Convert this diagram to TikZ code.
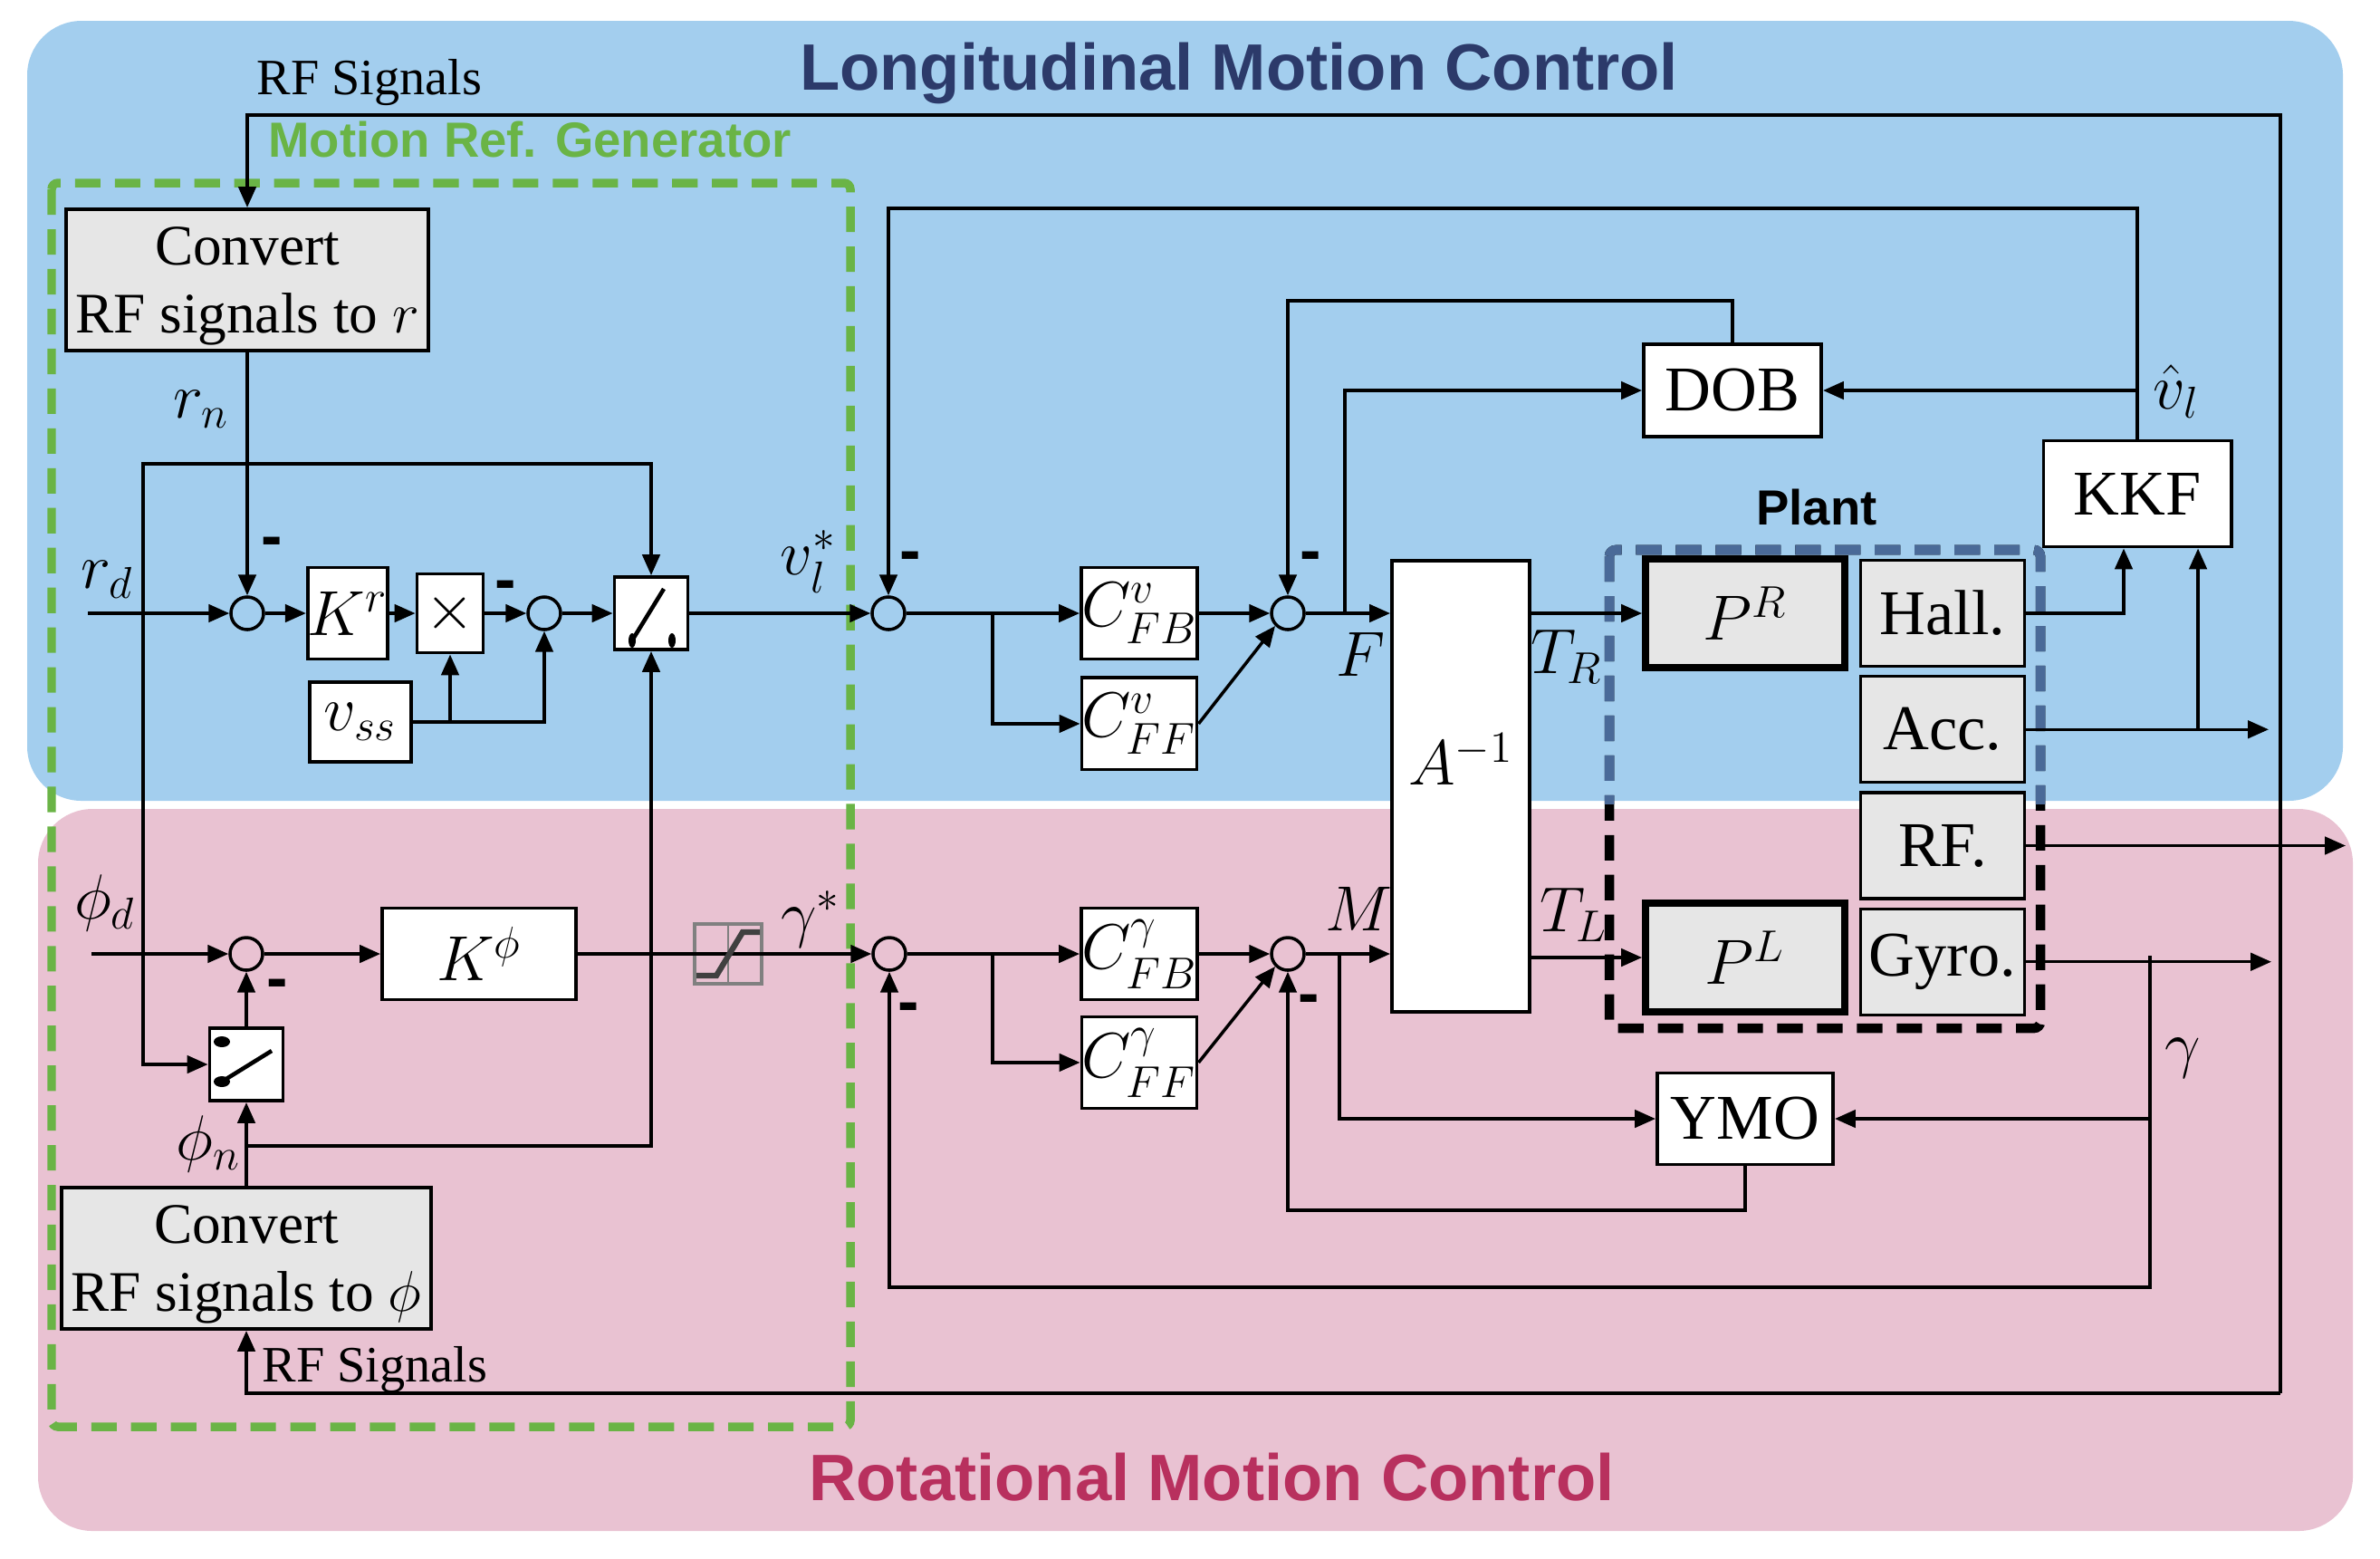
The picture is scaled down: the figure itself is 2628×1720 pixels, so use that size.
\RequirePackage{fix-cm}
\documentclass[tikz,border=0pt]{standalone}
\usepackage{amsmath}
\usepackage{fontspec}
\setmainfont{Liberation Serif}
\setsansfont{Liberation Sans}
\usetikzlibrary{arrows.meta, positioning}

\definecolor{longblue}{RGB}{163,206,238}
\definecolor{rotpink}{RGB}{233,194,210}
\definecolor{navytitle}{RGB}{44,58,106}
\definecolor{rottitle}{RGB}{184,48,94}
\definecolor{refgreen}{RGB}{106,180,70}
\definecolor{plantblue}{RGB}{74,106,152}
\definecolor{sensgray}{RGB}{230,230,230}

\newcommand{\blkfont}{\fontsize{20}{22}\selectfont}
\newcommand{\cvtfont}{\fontsize{18}{21.5}\selectfont}
\newcommand{\lblfont}{\fontsize{20}{22}\selectfont}
\newcommand{\sigfont}{\fontsize{16}{19}\selectfont}
\newcommand{\negfont}{\fontsize{20}{22}\selectfont\sffamily\bfseries}
\newcommand{\ttlfont}{\fontsize{20.6}{24}\selectfont\sffamily\bfseries}
\newcommand{\grpfont}{\fontsize{15.5}{18}\selectfont\sffamily\bfseries}

\begin{document}
\begin{tikzpicture}[
    x=0.01cm, y=-0.01cm,
    >={Triangle[length=6.5pt,width=5.5pt]},
    line width=1pt,
    blk/.style={
        draw,
        fill=white,
        line width=1.1pt,
        inner sep=0pt,
        font=\blkfont
    },
    cvt/.style={blk, fill=sensgray, align=center, font=\cvtfont, text depth=0pt},
    ctrl/.style={blk, minimum width=1.27cm, minimum height=1.01cm},
    sens/.style={blk, fill=sensgray, line width=0.9pt,
        minimum width=1.81cm, minimum height=1.17cm},
    plnt/.style={blk, fill=sensgray, line width=2.2pt,
        minimum width=2.2cm, minimum height=1.2cm},
    swbox/.style={blk, minimum width=0.81cm, minimum height=0.8cm},
    sumpt/.style={circle, draw, line width=1pt, minimum size=0.36cm, inner sep=0pt},
    sig/.style={font=\lblfont, inner sep=1pt},
    sigtxt/.style={font=\sigfont, inner sep=0pt},
    neg/.style={font=\negfont, inner sep=0pt},
    ttl/.style={font=\ttlfont, inner sep=0pt},
    grplbl/.style={font=\grpfont, inner sep=0pt},
    area/.style={rounded corners=0.6cm},
    grpbox/.style={line width=2.7pt, dash pattern=on 8pt off 4.5pt, rounded corners=2pt}
]
\useasboundingbox (0,0) rectangle (2628,1720);

% background areas
\fill[longblue, area] (30,23) rectangle (2587,884);
\fill[rotpink, area] (42,893) rectangle (2598,1690);

\node[ttl, text=navytitle, anchor=base] (ttllong) at (1368,99) {Longitudinal Motion Control};
\node[ttl, text=rottitle, anchor=base] (ttlrot) at (1338,1656) {Rotational Motion Control};

% groups
\draw[refgreen, grpbox] (57,202) rectangle (939,1575);
\node[grplbl, text=refgreen, anchor=base] (mrglbl) at (585,173) {Motion Ref. Generator};
\draw[grpbox, line width=3pt] (1777,607) rectangle (2253,1135);
\begin{scope}
    \clip (0,0) rectangle (2628,887);
    \draw[plantblue, grpbox, line width=3pt] (1777,607) rectangle (2253,1135);
\end{scope}
\node[grplbl, anchor=base] (plantlbl) at (2006,579) {Plant};

% motion reference generator
\node[cvt, minimum width=3.99cm, minimum height=1.56cm] (cvtr) at (273,309) {Convert\\RF signals to $r$};
\node[cvt, minimum width=4.08cm, minimum height=1.56cm] (cvtp) at (272,1389) {Convert\\RF signals to $\phi$};
\node[sumpt] (sumr) at (273,677) {};
\node[blk, minimum width=0.85cm, minimum height=1.01cm] (kr) at (384,677) {$K^r$};
\node[blk, minimum width=0.73cm, minimum height=0.87cm] (mul) at (497,677) {$\times$};
\node[sumpt] (sumv) at (601,677) {};
\node[swbox] (swv) at (719,677) {};
\node[blk, minimum width=1.12cm, minimum height=0.88cm] (vss) at (398,797) {$v_{ss}$};
\node[sumpt] (sumphi) at (272,1053) {};
\node[swbox] (swphi) at (272,1175) {};
\node[blk, minimum width=2.14cm, minimum height=1.01cm] (kphi) at (529,1053) {$K^{\phi}$};
\node[draw=gray, line width=1pt, minimum width=0.74cm, minimum height=0.66cm, inner sep=0pt] (sat) at (804,1053) {};

% longitudinal loop
\node[sumpt] (sumvl) at (981,677) {};
\node[ctrl] (cvfb) at (1258,677) {$C^{v}_{FB}$};
\node[ctrl, below=0.17cm of cvfb] (cvff) {$C^{v}_{FF}$};
\node[sumpt] (sumf) at (1422,677) {};
\node[blk, minimum width=1.52cm, minimum height=4.98cm] (ainv) at (1613,868) {};
\node[font=\blkfont] (ainvlbl) at ([yshift=0.3cm]ainv.center) {$A^{-1}$};
\node[blk, minimum width=1.96cm, minimum height=1.02cm] (dob) at (1913,431) {DOB};
\node[blk, minimum width=2.07cm, minimum height=1.17cm] (kkf) at (2360,545) {KKF};
\node[plnt] (pr) at (1927,677) {$P^R$};
\node[plnt] (pl) at (1927,1057) {$P^L$};
\node[sens] (hall) at (2145,677) {Hall.};
\node[sens, below=0.08cm of hall] (acc) {Acc.};
\node[sens, below=0.08cm of acc] (rfs) {RF.};
\node[sens, below=0.08cm of rfs] (gyro) {Gyro.};

% rotational loop
\node[sumpt] (sumg) at (982,1053) {};
\node[ctrl] (cgfb) at (1258,1053) {$C^{\gamma}_{FB}$};
\node[ctrl, below=0.15cm of cgfb] (cgff) {$C^{\gamma}_{FF}$};
\node[sumpt] (summ) at (1422,1053) {};
\node[blk, minimum width=1.94cm, minimum height=1.01cm] (ymo) at (1927,1235) {YMO};

% switch and saturation symbols
\begin{scope}[shift={(swv.center)}]
    \fill (-21,30) ellipse (4 and 8);
    \fill (23,30) ellipse (4 and 8);
    \draw[line width=1.3pt] (-21,30) -- (14,-27);
\end{scope}
\begin{scope}[shift={(swphi.center)}]
    \fill (-27,-25) ellipse (9 and 6);
    \fill (-27,19) ellipse (9 and 6);
    \draw[line width=1.3pt] (-27,19) -- (28,-15);
\end{scope}

% free ends and branch points
\coordinate (rdin) at (97,677);
\coordinate (phdin) at (101,1053);
\coordinate (modesig) at (158,512);
\coordinate (phnbr) at (272,1265);
\coordinate (rftop) at (2518,127);
\coordinate (rfbot) at (2518,1538);
\coordinate (vlbr) at (1096,677);
\coordinate (fbr) at (1485,677);
\coordinate (dobtop) at (1913,332);
\coordinate (vhtop) at (2360,230);
\coordinate (vhbr) at (2360,431);
\coordinate (kkfina) at ([xshift=-0.15cm]kkf.south);
\coordinate (kkfinb) at ([xshift=0.67cm]kkf.south);
\coordinate (accout) at (2505,804);
\coordinate (rfout) at (2590,930);
\coordinate (gyout) at (2508,1055);
\coordinate (gybr) at (2374,1055);
\coordinate (gyfb) at (2374,1421);
\coordinate (gbr) at (1096,1053);
\coordinate (mbr) at (1479,1053);
\coordinate (ymofb) at (1927,1336);

% reference generator connections
\draw[->] (rdin) -- (sumr.west);
\draw[->] (cvtr.south) -- (sumr.north);
\draw[->] (sumr.east) -- (kr.west);
\draw[->] (kr.east) -- (mul.west);
\draw[->] (mul.east) -- (sumv.west);
\draw[->] (sumv.east) -- (swv.west);
\draw[->] (swv.east) -- (sumvl.west);
\draw[->] (vss.east) -| (sumv.south);
\draw[->] (vss.east -| mul.south) -- (mul.south);
\draw[<->] (swphi.west) -| (modesig) -| (swv.north);
\draw[->] (cvtp.north) -- (swphi.south);
\draw[->] (phnbr) -| (swv.south);
\draw[->] (swphi.north) -- (sumphi.south);
\draw[->] (phdin) -- (sumphi.west);
\draw[->] (sumphi.east) -- (kphi.west);
\draw[->] (kphi.east) -- (sumg.west);
\draw[->] (rfbot) -- (rftop) -| (cvtr.north);
\draw[->] (rfbot) -| (cvtp.south);

\begin{scope}[shift={(sat.center)}]
    \draw[gray, line width=0.6pt] (0,-32) -- (0,32);
    \draw[darkgray, line width=1.8pt] (-35,24) -- (-13,24) -- (16,-24) -- (35,-24);
\end{scope}

% longitudinal connections
\draw[->] (sumvl.east) -- (cvfb.west);
\draw[->] (vlbr) |- (cvff.west);
\draw[->] (cvfb.east) -- (sumf.west);
\draw[->] (cvff.east) -- (sumf.south west);
\draw[->] (sumf.east) -- (sumf.east -| ainv.west);
\draw[->] (fbr) |- (dob.west);
\draw[->] (dob.north) -- (dobtop) -| (sumf.north);
\draw[->] (ainv.east |- pr.west) -- (pr.west);
\draw[->] (hall.east) -| (kkfina);
\draw[->] (acc.east) -- (acc.east -| accout);
\draw[->] (kkfinb |- acc.east) -- (kkfinb);
\draw[->] (kkf.north) -- (vhtop) -| (sumvl.north);
\draw[->] (vhbr) -- (dob.east);
\draw[->] (rfs.east) -- (rfs.east -| rfout);

% rotational connections
\draw[->] (sumg.east) -- (cgfb.west);
\draw[->] (gbr) |- (cgff.west);
\draw[->] (cgfb.east) -- (summ.west);
\draw[->] (cgff.east) -- (summ.south west);
\draw[->] (summ.east) -- (summ.east -| ainv.west);
\draw[->] (mbr) |- (ymo.west);
\draw[->] (ymo.south) -- (ymofb) -| (summ.south);
\draw[->] (ainv.east |- pl.west) -- (pl.west);
\draw[->] (gyro.east) -- (gyro.east -| gyout);
\draw[->] (gybr) |- (ymo.east);
\draw[->] (gybr) -- (gyfb) -| (sumg.south);

% signal labels
\node[sigtxt, anchor=base] (rfsigtop) at (408,104) {RF Signals};
\node[sigtxt, anchor=base] (rfsigbot) at (414,1525) {RF Signals};
\node[sig] (rnlbl) at (222,452) {$r_n$};
\node[sig] (rdlbl) at (118,640) {$r_d$};
\node[sig] (vllbl) at (893,620) {$v_l^{*}$};
\node[sig] (phdlbl) at (116,997) {$\phi_d$};
\node[sig] (phnlbl) at (230,1263) {$\phi_n$};
\node[sig] (gslbl) at (895,1015) {$\gamma^{*}$};
\node[sig] (flbl) at (1503,722) {$F$};
\node[sig] (mlbl) at (1500,1003) {$M$};
\node[sig] (trlbl) at (1730,725) {$T_R$};
\node[sig] (tllbl) at (1738,1010) {$T_L$};
\node[sig] (vhlbl) at (2403,432) {$\hat{v}_l$};
\node[sig] (glbl) at (2410,1168) {$\gamma$};

% minus signs
\node[neg] (negr) at (300,604) {-};
\node[neg] (negv) at (558,652) {-};
\node[neg] (negvl) at (1005,620) {-};
\node[neg] (negf) at (1447,620) {-};
\node[neg] (negphi) at (306,1092) {-};
\node[neg] (negg) at (1003,1118) {-};
\node[neg] (negm) at (1445,1109) {-};

\end{tikzpicture}
\end{document}
